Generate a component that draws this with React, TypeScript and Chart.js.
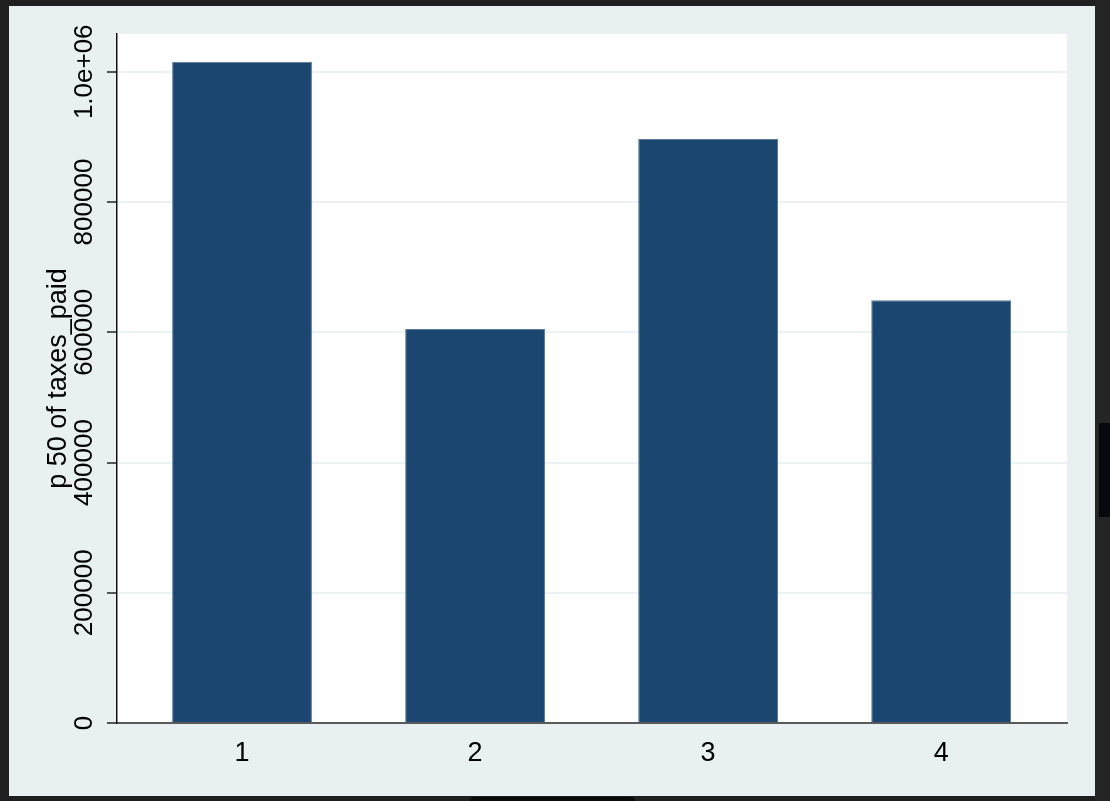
import React, { useEffect, useRef } from "react";
import { Chart, registerables } from "chart.js";

Chart.register(...registerables);

const categories = [1, 2, 3, 4];
const categoryLabels = ["1", "2", "3", "4"];
const medianTaxesPaid = [1015300, 605100, 896700, 649100];
const yTickValues = [0, 200000, 400000, 600000, 800000, 1000000];
const yTickLabels = ["0", "200000", "400000", "600000", "800000", "1.0e+06"];
const yAxisTitle = "p 50 of taxes_paid";

const FONT = "'Liberation Sans', Arial, Helvetica, sans-serif";

export default function App() {
  const ref = useRef<HTMLCanvasElement>(null);

  useEffect(() => {
    const canvas = ref.current;
    if (!canvas) return;
    const plotBg = {
      id: "plotBg",
      beforeDraw(chart: any) {
        const { ctx, chartArea: a } = chart;
        ctx.save();
        ctx.fillStyle = "#ffffff";
        ctx.fillRect(a.left, a.top, a.right - a.left, a.bottom - a.top);
        ctx.restore();
      },
    };
    const chart = new Chart(canvas, {
      type: "bar",
      data: {
        datasets: [
          {
            data: categories.map((c, i) => ({ x: c, y: medianTaxesPaid[i] })),
            backgroundColor: "#1b4670",
            borderColor: "#5b7a97",
            borderWidth: 1,
            barPercentage: 0.6,
            categoryPercentage: 1,
          },
        ],
      },
      options: {
        responsive: false,
        animation: false,
        devicePixelRatio: 1,
        layout: { padding: { top: 28, right: 28, left: 0, bottom: 0 } },
        plugins: { legend: { display: false }, tooltip: { enabled: false } },
        scales: {
          x: {
            type: "linear",
            min: 0.4635,
            max: 4.54,
            offset: false,
            afterBuildTicks: (s: any) => {
              s.ticks = categories.map((v) => ({ value: v }));
            },
            afterFit: (s: any) => {
              s.height = 73;
            },
            grid: { display: false, offset: false, drawTicks: false },
            border: { display: true, color: "#5a5a5a", width: 2 },
            ticks: {
              font: { family: FONT, size: 27 },
              color: "#000",
              padding: 14,
              autoSkip: false,
              maxRotation: 0,
              minRotation: 0,
              callback: (v: any) => {
                const idx = categories.indexOf(Number(v));
                return idx >= 0 ? categoryLabels[idx] : "";
              },
            },
          },
          y: {
            type: "linear",
            min: 0,
            max: 1058000,
            afterBuildTicks: (s: any) => {
              s.ticks = yTickValues.map((v) => ({ value: v }));
            },
            afterFit: (s: any) => {
              s.width = 108;
            },
            grid: {
              color: "#eaf2f3",
              lineWidth: 2,
              tickColor: "#555555",
              tickLength: 10,
              drawTicks: true,
            },
            border: { color: "#111111", width: 1.5 },
            ticks: {
              font: { family: FONT, size: 26 },
              color: "#000",
              autoSkip: false,
              minRotation: 90,
              maxRotation: 90,
              crossAlign: "center",
              padding: -25,
              callback: (v: any) => {
                const idx = yTickValues.indexOf(Number(v));
                return idx >= 0 ? yTickLabels[idx] : "";
              },
            },
            title: {
              display: true,
              text: yAxisTitle,
              color: "#000",
              font: { family: FONT, size: 27 },
              padding: { top: 33, bottom: 0 },
            },
          },
        },
      } as any,
      plugins: [plotBg],
    });
    return () => chart.destroy();
  }, []);

  return (
    <div
      style={{
        position: "absolute",
        left: 0,
        top: 0,
        width: 1110,
        height: 801,
        background: "#1f1f1f",
        overflow: "hidden",
      }}
    >
      <div
        style={{
          position: "absolute",
          left: 9,
          top: 6,
          width: 1086,
          height: 790,
          background: "#e8f0f2",
        }}
      >
        <canvas
          ref={ref}
          width={1086}
          height={790}
          style={{ width: 1086, height: 790, display: "block" }}
        />
      </div>
      <div
        style={{
          position: "absolute",
          left: 1095,
          top: 0,
          width: 15,
          height: 801,
          background: "#252525",
        }}
      />
      <div
        style={{
          position: "absolute",
          left: 1099,
          top: 423,
          width: 11,
          height: 94,
          background: "#05080c",
        }}
      />
      <div
        style={{
          position: "absolute",
          left: 470,
          top: 797,
          width: 165,
          height: 8,
          borderRadius: 4,
          background: "#0a0a0a",
        }}
      />
    </div>
  );
}
